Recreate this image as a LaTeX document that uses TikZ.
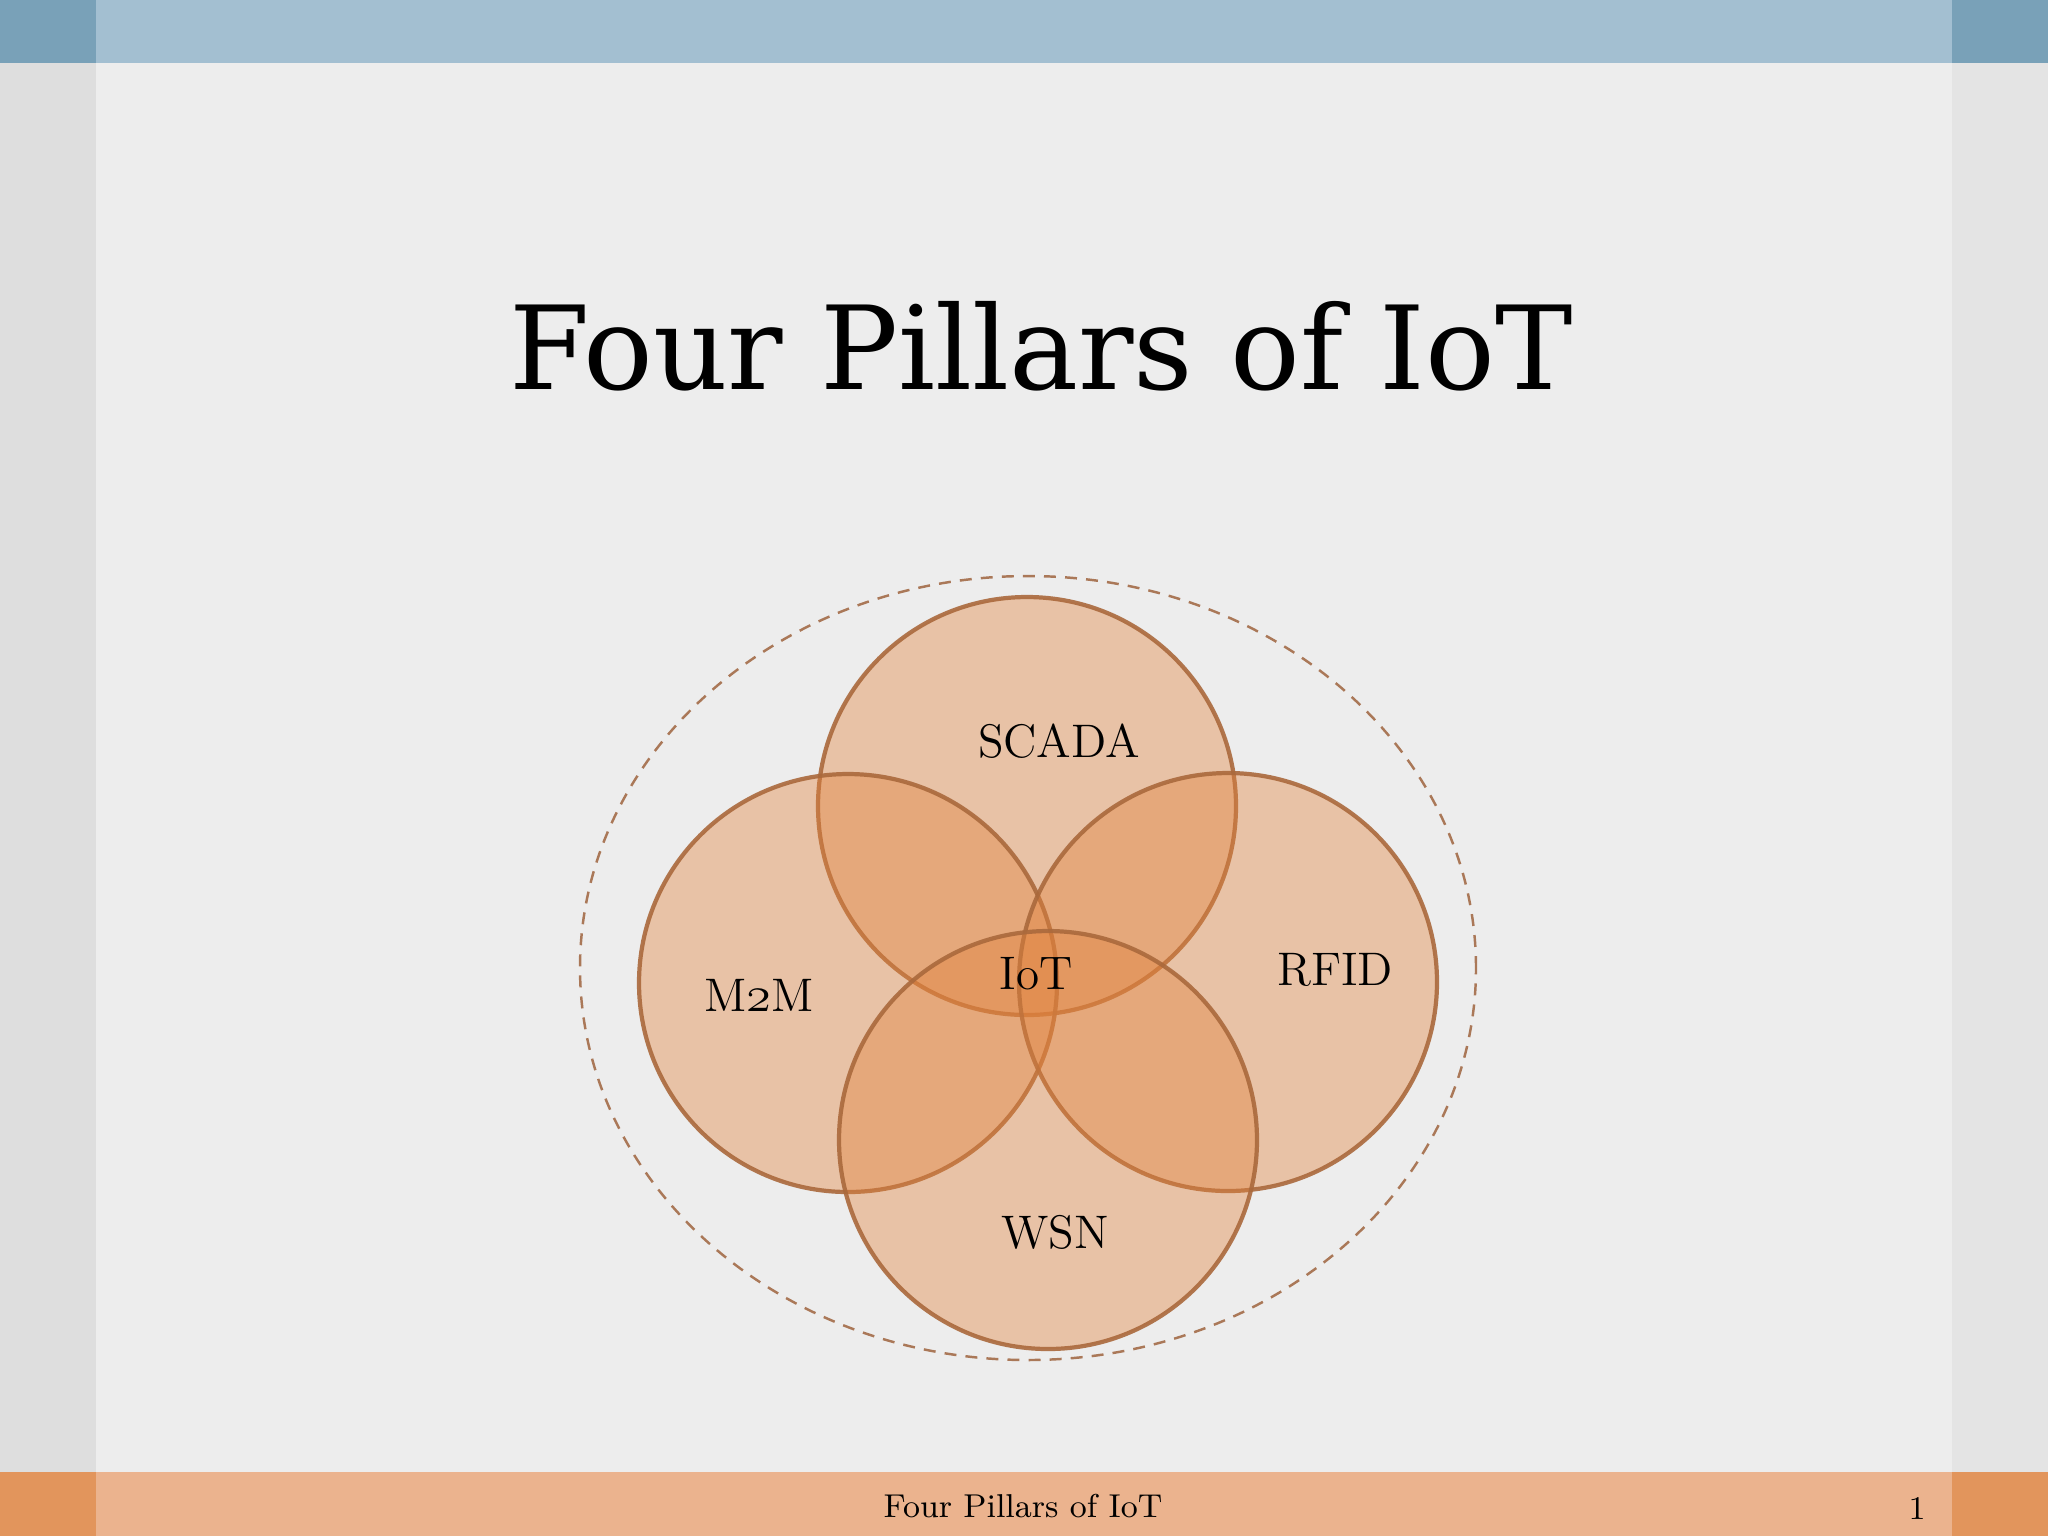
\documentclass[tikz,border=0pt]{standalone}
\usepackage{fontspec}
\usetikzlibrary{shapes.geometric}

\newfontfamily\titlefont{DejaVu Serif}

\definecolor{slidegray}{RGB}{237,237,237}
\definecolor{sidegray}{RGB}{222,222,222}
\definecolor{barblue}{RGB}{163,191,209}
\definecolor{cornerblue}{RGB}{121,161,184}
\definecolor{barorange}{RGB}{235,179,142}
\definecolor{cornerorange}{RGB}{226,149,92}
\definecolor{pillarfill}{RGB}{225,130,60}
\definecolor{pillarline}{RGB}{170,105,60}
\definecolor{ringline}{RGB}{170,120,88}

\tikzset{
  pillar/.style={circle, minimum size=4.18cm, inner sep=0pt,
    fill=pillarfill, fill opacity=0.4,
    draw=pillarline, draw opacity=0.9, line width=1.2pt},
  pillarlabel/.style={font=\fontsize{13.4}{16}\selectfont, text=black},
  footlabel/.style={font=\fontsize{9.4}{11}\selectfont, text=black}
}

\begin{document}
\begin{tikzpicture}[x=0.1mm, y=-0.1mm]
    \useasboundingbox (0,0) rectangle (2048,1536);

    % Slide background with the two side bands
    \fill[slidegray] (0,0) rectangle (2048,1536);
    \fill[sidegray] (0,0) rectangle (96,1536);
    \fill[sidegray!60!slidegray] (1952,0) rectangle (2048,1536);

    % Top bar and its corner squares
    \fill[barblue] (0,0) rectangle (2048,63);
    \fill[cornerblue] (0,0) rectangle (96,63);
    \fill[cornerblue] (1952,0) rectangle (2048,63);

    % Footer bar and its corner squares
    \fill[barorange] (0,1472) rectangle (2048,1536);
    \fill[cornerorange] (0,1472) rectangle (96,1536);
    \fill[cornerorange] (1952,1472) rectangle (2048,1536);

    % Title
    \node[anchor=base] (title) at (1041,389) {\titlefont\fontsize{33}{40}\selectfont Four Pillars of IoT};

    % Dashed ring round the four pillars
    \node[ellipse, minimum width=8.96cm, minimum height=7.84cm, inner sep=0pt,
          draw=ringline, line width=0.7pt, dash pattern=on 3.4pt off 2.6pt] (ring) at (1028,968) {};

    % The four pillars
    \node[pillar] (scada) at (1027,806) {};
    \node[pillar] (m2m) at (848,983) {};
    \node[pillar] (rfid) at (1228,982) {};
    \node[pillar] (wsn) at (1048,1140) {};

    % Pillar names and the common core
    \node[pillarlabel] (scadatext) at (1059,741) {SCADA};
    \node[pillarlabel] (m2mtext) at (759,995) {M$\mathnormal{2}$M};
    \node[pillarlabel] (rfidtext) at (1335,970) {RFID};
    \node[pillarlabel] (wsntext) at (1055,1232) {WSN};
    \node[pillarlabel] (iottext) at (1036,974) {IoT};

    % Footer text
    \node[footlabel] (foottitle) at (1023,1506) {Four Pillars of IoT};
    \node[footlabel] (pagenum) at (1917,1508) {1};
\end{tikzpicture}
\end{document}
